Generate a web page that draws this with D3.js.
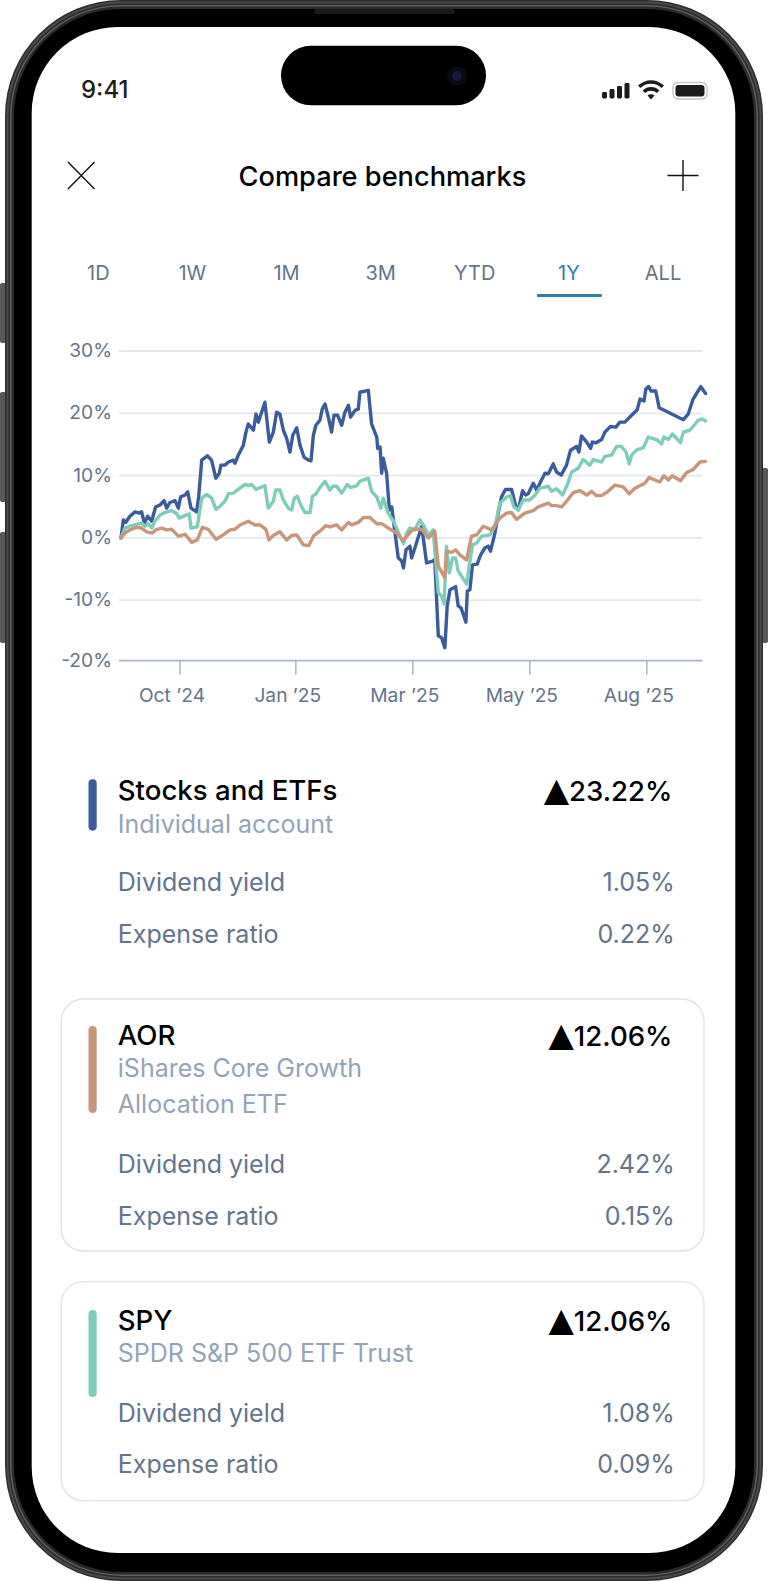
<!DOCTYPE html>
<html><head><meta charset="utf-8">
<script src="https://cdn.jsdelivr.net/npm/d3@7"></script>
<style>
html,body{margin:0;padding:0;background:#fff}
svg{display:block}
text{font-family:Inter,"Noto Sans",sans-serif}
.domain{display:none}
</style></head><body><svg id="c" width="768" height="1581" viewBox="0 0 768 1581"></svg>
<script>
const tabs=["1D","1W","1M","3M","YTD","1Y","ALL"];
const yTicks=[-20,-10,0,10,20,30];
const xTickDays=[25,74.5,124.5,174.5,224.5];
const xTickLabels=["Oct ’24","Jan ’25","Mar ’25","May ’25","Aug ’25"];

const stockDays=[0,1,2,3.8,6,7.8,8.8,10,11.4,13.1,14.8,16.7,18.4,19.5,20.9,23.1,24.5,25.5,27.4,28.5,29.9,32.3,33.2,34.5,36.9,38.7,40.5,42,42.7,44.4,45.9,48,48.7,50.1,52.3,53.4,54.4,56.6,57.7,58.7,60.1,61.5,63.4,65.1,66.5,67.9,69.4,70.8,72.2,73.4,75.1,76.5,78.2,80.1,81.2,82.2,83.3,85,86,87.2,88.6,90,91,92.6,94.3,95.7,97.2,98.1,100,101.4,102.1,105.7,107.1,109.3,109.7,110.7,111.4,112.1,113.5,114.7,115.7,117.1,118.5,120,120.7,121.8,123.5,124.2,125.6,128.5,130.6,133.2,134.1,135.6,137,138.4,139.4,140.6,143,144.1,145.3,147.4,148,149.1,150.2,152.2,153.7,155.5,156.9,157.9,159.8,161.2,162.6,164.3,166.9,168.8,169.8,171.6,172.9,174,176.2,177.6,179.7,181.2,182.6,184.7,186.1,188.1,190.4,192.1,194.7,195.7,196.8,199,200.7,201.4,203,205.4,206.8,209.2,211.5,213.2,215.3,218.2,220.6,221.8,223.5,224.3,225.5,226.5,228.5,230,240.3,242.4,244.5,246.3,247.8,249.8];
const stockValues=[-0.1,2.8,2.4,3.4,4.1,3.9,4.1,2.3,3.4,2.6,4.9,5.2,5.9,4.7,5.6,5.9,4.7,6.5,6.8,7.3,4.7,4.1,6.5,12.4,13.1,12.4,9.5,10.3,11.6,11.6,12.1,12.4,11.9,13.2,14.8,16.9,18.2,17.2,19.8,18.5,20.1,21.7,15.3,16.9,20.1,19.8,17.2,15.9,13.7,16.4,17.6,14.8,12.9,12.4,12.3,16.4,18,18.8,20.6,21.4,19.3,16.9,19.6,19.6,18,20.1,21.2,19.3,20.4,20.6,23.3,23.6,18.2,16.1,14.3,14.5,10.3,12.7,10.3,4.4,4.9,0.7,-3.3,-3.8,-4.9,-2,-1.4,-3.3,-1.7,1.8,-4.1,-3.8,-3.6,-15.8,-16.1,-17.7,-11,-8.4,-7.9,-11,-11.3,-13.6,-8.6,-8.4,-4.4,-4.3,-2.8,-1.7,-1.4,-2.2,0.7,3.9,6.5,7.7,7.7,4.9,4.4,7.5,6.8,7,8.7,7.6,9.2,10.3,10.2,11.8,10.5,10,11.6,14,14.6,13.7,16.3,15.3,14.3,15.3,15.2,15.7,16.9,17.8,17.7,18.5,18.5,19.6,20.5,22.2,21.9,23.8,24.2,23.5,23.5,20.8,18.9,19.8,22.2,23.3,24.2,23.1];

const spyDays=[0,1.7,3.8,6.7,8.8,10.3,11.7,13.1,14.5,16.7,18.8,21.7,23.8,24.9,27.4,29.2,29.9,32.6,33.5,34.5,36.6,38.7,40.6,42.3,44.4,45.9,48,50.1,53,54.4,55.8,57.7,59.4,61.5,62.9,65.1,66.1,67.9,69.4,71.5,72.9,74.1,75.4,76.8,78.6,80.8,81.8,83.3,85,87.2,89.3,90.5,92.2,94.3,96.7,98.1,100.7,102.1,105.7,107.1,109.3,111,112.1,114.2,116.4,117.8,119.2,120.7,122.1,123.5,125.6,127.7,129.2,131.3,133.4,135.6,137,138.1,139.1,140.3,141.7,143,144.1,145.5,147.7,148.8,150.2,152,154.1,157.7,159.8,161.9,164.8,166.5,167.9,169.8,171.9,174.7,176.9,179,182.6,184,186.1,188.7,190.7,192.6,195.4,197.5,200.4,201.8,205.4,206.8,209.6,211.8,213.9,215.8,217.2,218.2,220.3,223.2,225.3,228.9,231,232,233.9,235.6,239.1,240.3,243.1,246.7,248.1,249.8];
const spyValues=[-0.1,1.5,1.8,2.1,2.3,1.8,2.2,1.5,2.6,3.6,4,4.3,3.8,3.1,3.5,3.8,1.5,1.7,3.9,6.3,6.9,6.3,4.5,5,5.8,7,7.1,7.7,8.5,8.3,8.5,7.7,8,8.3,4.7,5.8,7.6,7.6,6,4.7,4.4,6.3,6.6,5.2,4,4,6.6,7,8,9,7.6,8.2,8.2,7.1,8.5,8,8.3,9,9.5,7.4,6.5,4.7,6.3,3.9,2.6,1.5,0.2,-1,0.7,1.5,1.2,2.8,2,0.4,1.2,-8.9,-9.4,-10.7,-1.4,-5.7,-3.3,-3.3,-5.4,-6.2,-7.5,-4.6,-1.2,-0.9,0.2,0.4,1.8,5.5,6.5,6.7,4.9,4.4,6,6,6.8,7.9,8.2,7.4,7.8,6.8,8.4,10.5,11.1,12.5,11.6,12.5,12.1,13,13.2,14.6,14.6,13.7,11.8,13.2,14,14.4,16.1,15.7,15,16.1,15.7,16.6,15.2,16.9,17.2,18.8,19,18.7];

const aorDays=[0,1.7,3.8,6.7,8.8,11,13.4,14.8,17.4,19.5,21.7,24.5,27.4,30.2,32.6,34.8,37.3,40.6,43.7,46.6,48.7,50.9,54.4,57.3,59.4,61.9,63.2,65.1,67.9,70.8,72.9,75.1,77.9,80.3,82.2,85,87.6,89.3,92.2,94.3,97.2,98.6,101.4,103.6,106.4,109.3,111.4,114.2,117.8,120.7,123.5,124.9,128.5,131.3,134.1,135.6,138.4,139.1,141.3,143,144.8,147.7,149.8,152,154.8,158.4,161.9,164.8,166.9,169,172.6,176.2,178.3,182.6,184,186.1,188.3,190.4,193.3,196.1,199,201.1,203.2,205.4,208.2,211.1,214.6,217.2,219.6,223.9,225.7,230.3,232,233.9,235.6,239.1,241.7,244.5,247.4,249.8];
const aorValues=[-0.1,0.7,1.2,1.6,1.5,0.9,0.7,1.2,1.5,1.2,1.3,0.2,0.5,-0.8,-0.4,1.6,1.3,-0.3,0.4,1.2,1.3,2,2.6,2,2,1.3,-0.4,0.3,0.9,-0.4,0.3,0.4,-1.2,-1.3,0.2,1,1.9,1.7,2,1.2,2.4,2,2.4,3.2,3.2,2.2,2.2,1.5,0.7,-0.5,0.8,1.3,1.3,-0.1,1,-4.6,-6.5,-2.2,-2.4,-2,-2.8,-3.6,0.2,0.4,1.8,1.2,3.1,3.9,4,2.9,3.9,4.3,4.9,5.5,5.1,5.1,4.9,5.8,7.2,7.5,6.8,7.4,6.7,6.7,7.4,8.4,8.1,7,7.9,8.7,9.6,8.9,9.9,9.2,9.9,9.1,10.4,10.9,12.1,12.2];

const seriesNames=["Stocks and ETFs","AOR","SPY"];
const seriesSubs=[["Individual account"],["iShares Core Growth","Allocation ETF"],["SPDR S&P 500 ETF Trust"]];
const seriesReturns=["23.22%","12.06%","12.06%"];
const dividendYields=["1.05%","2.42%","1.08%"];
const expenseRatios=["0.22%","0.15%","0.09%"];

const BLUE="#3b5b9a",ORANGE="#c8967a",TEAL="#7ecdb9";
const svg=d3.select("#c");

// device frame
[[0,283,6,60],[0,392,6,110],[0,532,6,111],[762,468,6,175]].forEach(b=>{
  svg.append("rect").attr("x",b[0]).attr("y",b[1]).attr("width",b[2]).attr("height",b[3]).attr("rx",2).attr("fill","#585858");
});
function rr(i,rx,f){svg.append("rect").attr("x",5+i).attr("y",i).attr("width",758-2*i).attr("height",1581-2*i).attr("rx",rx).attr("fill",f);}
rr(0,116,"#2e2e2e");rr(1.5,114.5,"#4a4a4a");rr(3.5,112.5,"#2b2b2b");rr(5,111,"#5e5e5e");rr(6.5,109.5,"#2a2a2a");rr(9,107,"#000");
svg.append("rect").attr("x",314).attr("y",9).attr("width",141).attr("height",5).attr("rx",2.5).attr("fill","#1a1a1a");
svg.append("rect").attr("x",31.7).attr("y",27).attr("width",703.6).attr("height",1526).attr("rx",86).attr("fill","#fff");

// status bar
svg.append("text").attr("x",81).attr("y",98).attr("font-size",24).attr("font-weight",550).attr("fill","#1c1c1e").text("9:41");
svg.append("rect").attr("x",281).attr("y",45.7).attr("width",205).attr("height",59.6).attr("rx",29.8).attr("fill","#000");
svg.append("circle").attr("cx",457).attr("cy",76).attr("r",10).attr("fill","#0a0a14");
svg.append("circle").attr("cx",457).attr("cy",76).attr("r",5).attr("fill","#14183a");
[[602,92,6.5],[609.5,89,9.5],[617,86,12.5],[624.5,83,15.5]].forEach(b=>svg.append("rect").attr("x",b[0]).attr("y",b[1]).attr("width",5).attr("height",b[2]).attr("rx",1.4).attr("fill","#1c1c1e"));
svg.append("g").attr("transform","translate(651 99) scale(.82) translate(-651 -99)").append("path").attr("d","M651 99.5l-4.2-4.7a6 6 0 0 1 8.4 0zM643.8 91.8l-3-3.2a14.7 14.7 0 0 1 20.4 0l-3 3.2a10.4 10.4 0 0 0-14.4 0zM638 85.7l-2.9-3.1a23 23 0 0 1 31.8 0l-2.9 3.1a18.8 18.8 0 0 0-26 0z").attr("fill","#1c1c1e");
svg.append("rect").attr("x",673).attr("y",82.5).attr("width",34).attr("height",16.5).attr("rx",5).attr("fill","none").attr("stroke","#c8c8c8").attr("stroke-width",1.4);
svg.append("rect").attr("x",675.5).attr("y",85).attr("width",29).attr("height",11.5).attr("rx",3).attr("fill","#1c1c1e");

// header
svg.append("path").attr("d","M68 162L94.5 189M94.5 162L68 189M683 160V191M667.5 175.5H698.5").attr("stroke","#111").attr("stroke-width",1.4).attr("fill","none");
svg.append("text").attr("x",382.5).attr("y",186).attr("text-anchor","middle").attr("font-size",27.2).attr("font-weight",450).attr("fill","#000").text("Compare benchmarks");

// tabs
const tabX=d3.scalePoint().domain(tabs).range([98.3,663]);
svg.append("g").selectAll("text").data(tabs).join("text")
  .attr("x",d=>tabX(d)).attr("y",280).attr("text-anchor","middle").attr("font-size",20).attr("font-weight",400)
  .attr("fill",d=>d==="1Y"?"#2f7fa6":"#64748b").text(d=>d);
svg.append("rect").attr("x",tabX("1Y")-32).attr("y",294).attr("width",65).attr("height",3).attr("rx",1).attr("fill","#2f7fa6");

// chart
const x=d3.scaleLinear().domain([0,250]).range([121,706]);
const y=d3.scaleLinear().domain([-20,30]).range([662,350.5]);
const yAxis=svg.append("g").attr("transform","translate(119,0)")
  .call(d3.axisLeft(y).tickValues(yTicks.filter(v=>v>-20)).tickSize(-583).tickPadding(7).tickFormat(d=>d+"%"));
yAxis.selectAll(".tick line").attr("stroke","#e2e7f2").attr("stroke-width",1.8);
svg.append("g").attr("transform","translate(119,-1.3)")
  .call(d3.axisLeft(y).tickValues([-20]).tickSize(0).tickPadding(7).tickFormat(d=>d+"%"));
svg.selectAll("g .tick text").attr("font-size",19.2).attr("fill","#64748b").attr("font-family","Inter");
const xAxis=svg.append("g").attr("transform","translate(0,660.7)")
  .call(d3.axisBottom(x).tickValues(xTickDays).tickSize(14).tickPadding(14).tickFormat((d,i)=>xTickLabels[i]));
xAxis.select(".domain").style("display","inline").attr("stroke","#a9b5c9").attr("stroke-width",1.8).attr("d","M119,0H702.5");
xAxis.selectAll(".tick line").attr("stroke","#a9b5c9").attr("stroke-width",1.5);
xAxis.selectAll(".tick text").attr("font-size",19.2).attr("fill","#64748b").attr("font-family","Inter").attr("dx",-8);

const line=d3.line().x(d=>x(d[0])).y(d=>y(d[1]));
[[stockDays,stockValues,BLUE],[spyDays,spyValues,TEAL],[aorDays,aorValues,ORANGE]].forEach(([ds,vs,c])=>{
  svg.append("path").attr("d",line(d3.zip(ds,vs))).attr("fill","none").attr("stroke",c).attr("stroke-width",3.4).attr("stroke-linejoin","round").attr("stroke-linecap","round");
});

// benchmark cards
const cardTop=[null,999,1281.7], cardBottom=[null,1251,1500.7];
const barTop=[779.3,1026,1310], barBottom=[830.7,1113,1397];
const nameY=[799.5,1045,1330], subY=[[832.7],[1076.5,1113],[1362]], divY=[891,1173,1421.7], expY=[942.7,1224.6,1473];
const colors=[BLUE,ORANGE,TEAL];
seriesNames.forEach((n,i)=>{
  if(cardTop[i]) svg.append("rect").attr("x",61.3).attr("y",cardTop[i]).attr("width",642.7).attr("height",cardBottom[i]-cardTop[i]).attr("rx",22).attr("fill","#fff").attr("stroke","#dde2ef").attr("stroke-width",1.3);
  svg.append("rect").attr("x",88.5).attr("y",barTop[i]).attr("width",8.2).attr("height",barBottom[i]-barTop[i]).attr("rx",4.1).attr("fill",colors[i]);
  svg.append("text").attr("x",117.8).attr("y",nameY[i]).attr("font-size",27.6).attr("font-weight",450).attr("fill","#000").text(n);
  seriesSubs[i].forEach((s,j)=>svg.append("text").attr("x",117.8).attr("y",subY[i][j]).attr("font-size",25).attr("fill","#94a3b8").text(s));
  const r=svg.append("text").attr("x",672.5).attr("y",nameY[i]+1).attr("text-anchor","end").attr("font-size",27.6).attr("font-weight",450).attr("fill","#000");
  r.append("tspan").attr("font-family","DejaVu Sans").attr("font-size",33).text("▲");
  r.append("tspan").text(seriesReturns[i]);
  [[divY[i],"Dividend yield",dividendYields[i]],[expY[i],"Expense ratio",expenseRatios[i]]].forEach(([yy,l,v])=>{
    svg.append("text").attr("x",117.8).attr("y",yy).attr("font-size",25).attr("fill","#64748b").text(l);
    svg.append("text").attr("x",674.8).attr("y",yy).attr("text-anchor","end").attr("font-size",25).attr("fill","#64748b").text(v);
  });
});
</script></body></html>
